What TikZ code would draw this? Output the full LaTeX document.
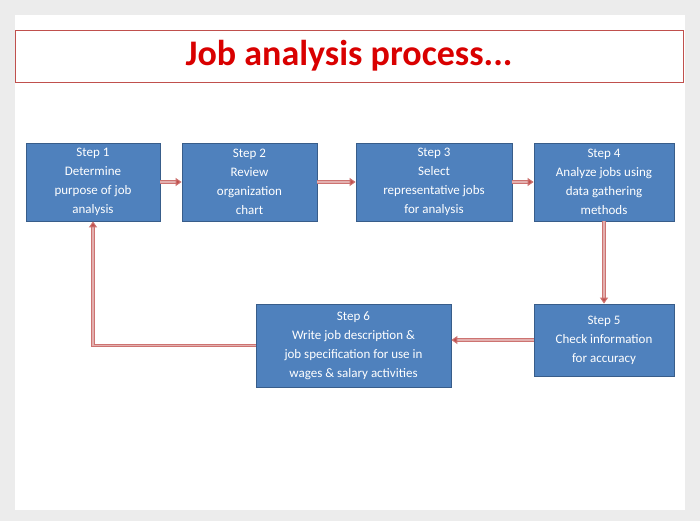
\documentclass[tikz,border=0pt]{standalone}
\usepackage{fontspec}
\setmainfont{Carlito}
\usetikzlibrary{arrows.meta,positioning}
\definecolor{stepblue}{HTML}{4F81BD}
\definecolor{stepedge}{HTML}{385D8A}
\definecolor{flowred}{HTML}{C0504D}
\tikzset{font={\fontsize{13pt}{19pt}\selectfont}}
\begin{document}
\begin{tikzpicture}[x=1pt,y=-1pt,
            stepbox/.style={draw=stepedge,fill=stepblue,text=white,align=center,inner sep=0pt,line width=0.8pt},
            flow/.style={draw=flowred!80,double=flowred!45,double distance=1.2pt,line width=1pt,-{Triangle[length=6pt,width=8pt,fill=flowred]}}]
            \useasboundingbox (0,0) rectangle (700,521);
            \fill[gray!15] (0,0) rectangle (700,521);
            \fill[white] (15,15) rectangle (685,510);
            \node[draw=flowred,line width=0.8pt,minimum width=668pt,minimum height=52pt,inner sep=0pt,
                  text=red!85!black,font={\fontsize{36pt}{40pt}\selectfont\bfseries}]
                  (title) at (349,56) {Job analysis process...};
            \node[stepbox,minimum width=134pt,minimum height=78pt] (s1) at (93,182) {Step 1\\Determine\\purpose of job\\analysis};
            \node[stepbox,minimum width=135pt,minimum height=78pt] (s2) at (249.5,182) {Step 2\\Review\\organization\\chart};
            \node[stepbox,minimum width=156pt,minimum height=78pt] (s3) at (434,182) {Step 3\\Select\\representative jobs\\for analysis};
            \node[stepbox,minimum width=140pt,minimum height=78pt] (s4) at (604,182) {Step 4\\Analyze jobs using\\data gathering\\methods};
            \node[stepbox,minimum width=140pt,minimum height=72pt] (s5) at (604,340) {Step 5\\Check information\\for accuracy};
            \node[stepbox,minimum width=195pt,minimum height=83pt] (s6) at (353.5,345.5) {Step 6\\Write job description \&\\job specification for use in\\wages \& salary activities};
            \draw[flow] (s1) -- (s2);
            \draw[flow] (s2) -- (s3);
            \draw[flow] (s3) -- (s4);
            \draw[flow] (s4) -- (s5);
            \draw[flow] (s5) -- (s5 -| s6.east);
            \draw[flow] (s6.west) -| (s1.south);
\end{tikzpicture}
\end{document}
